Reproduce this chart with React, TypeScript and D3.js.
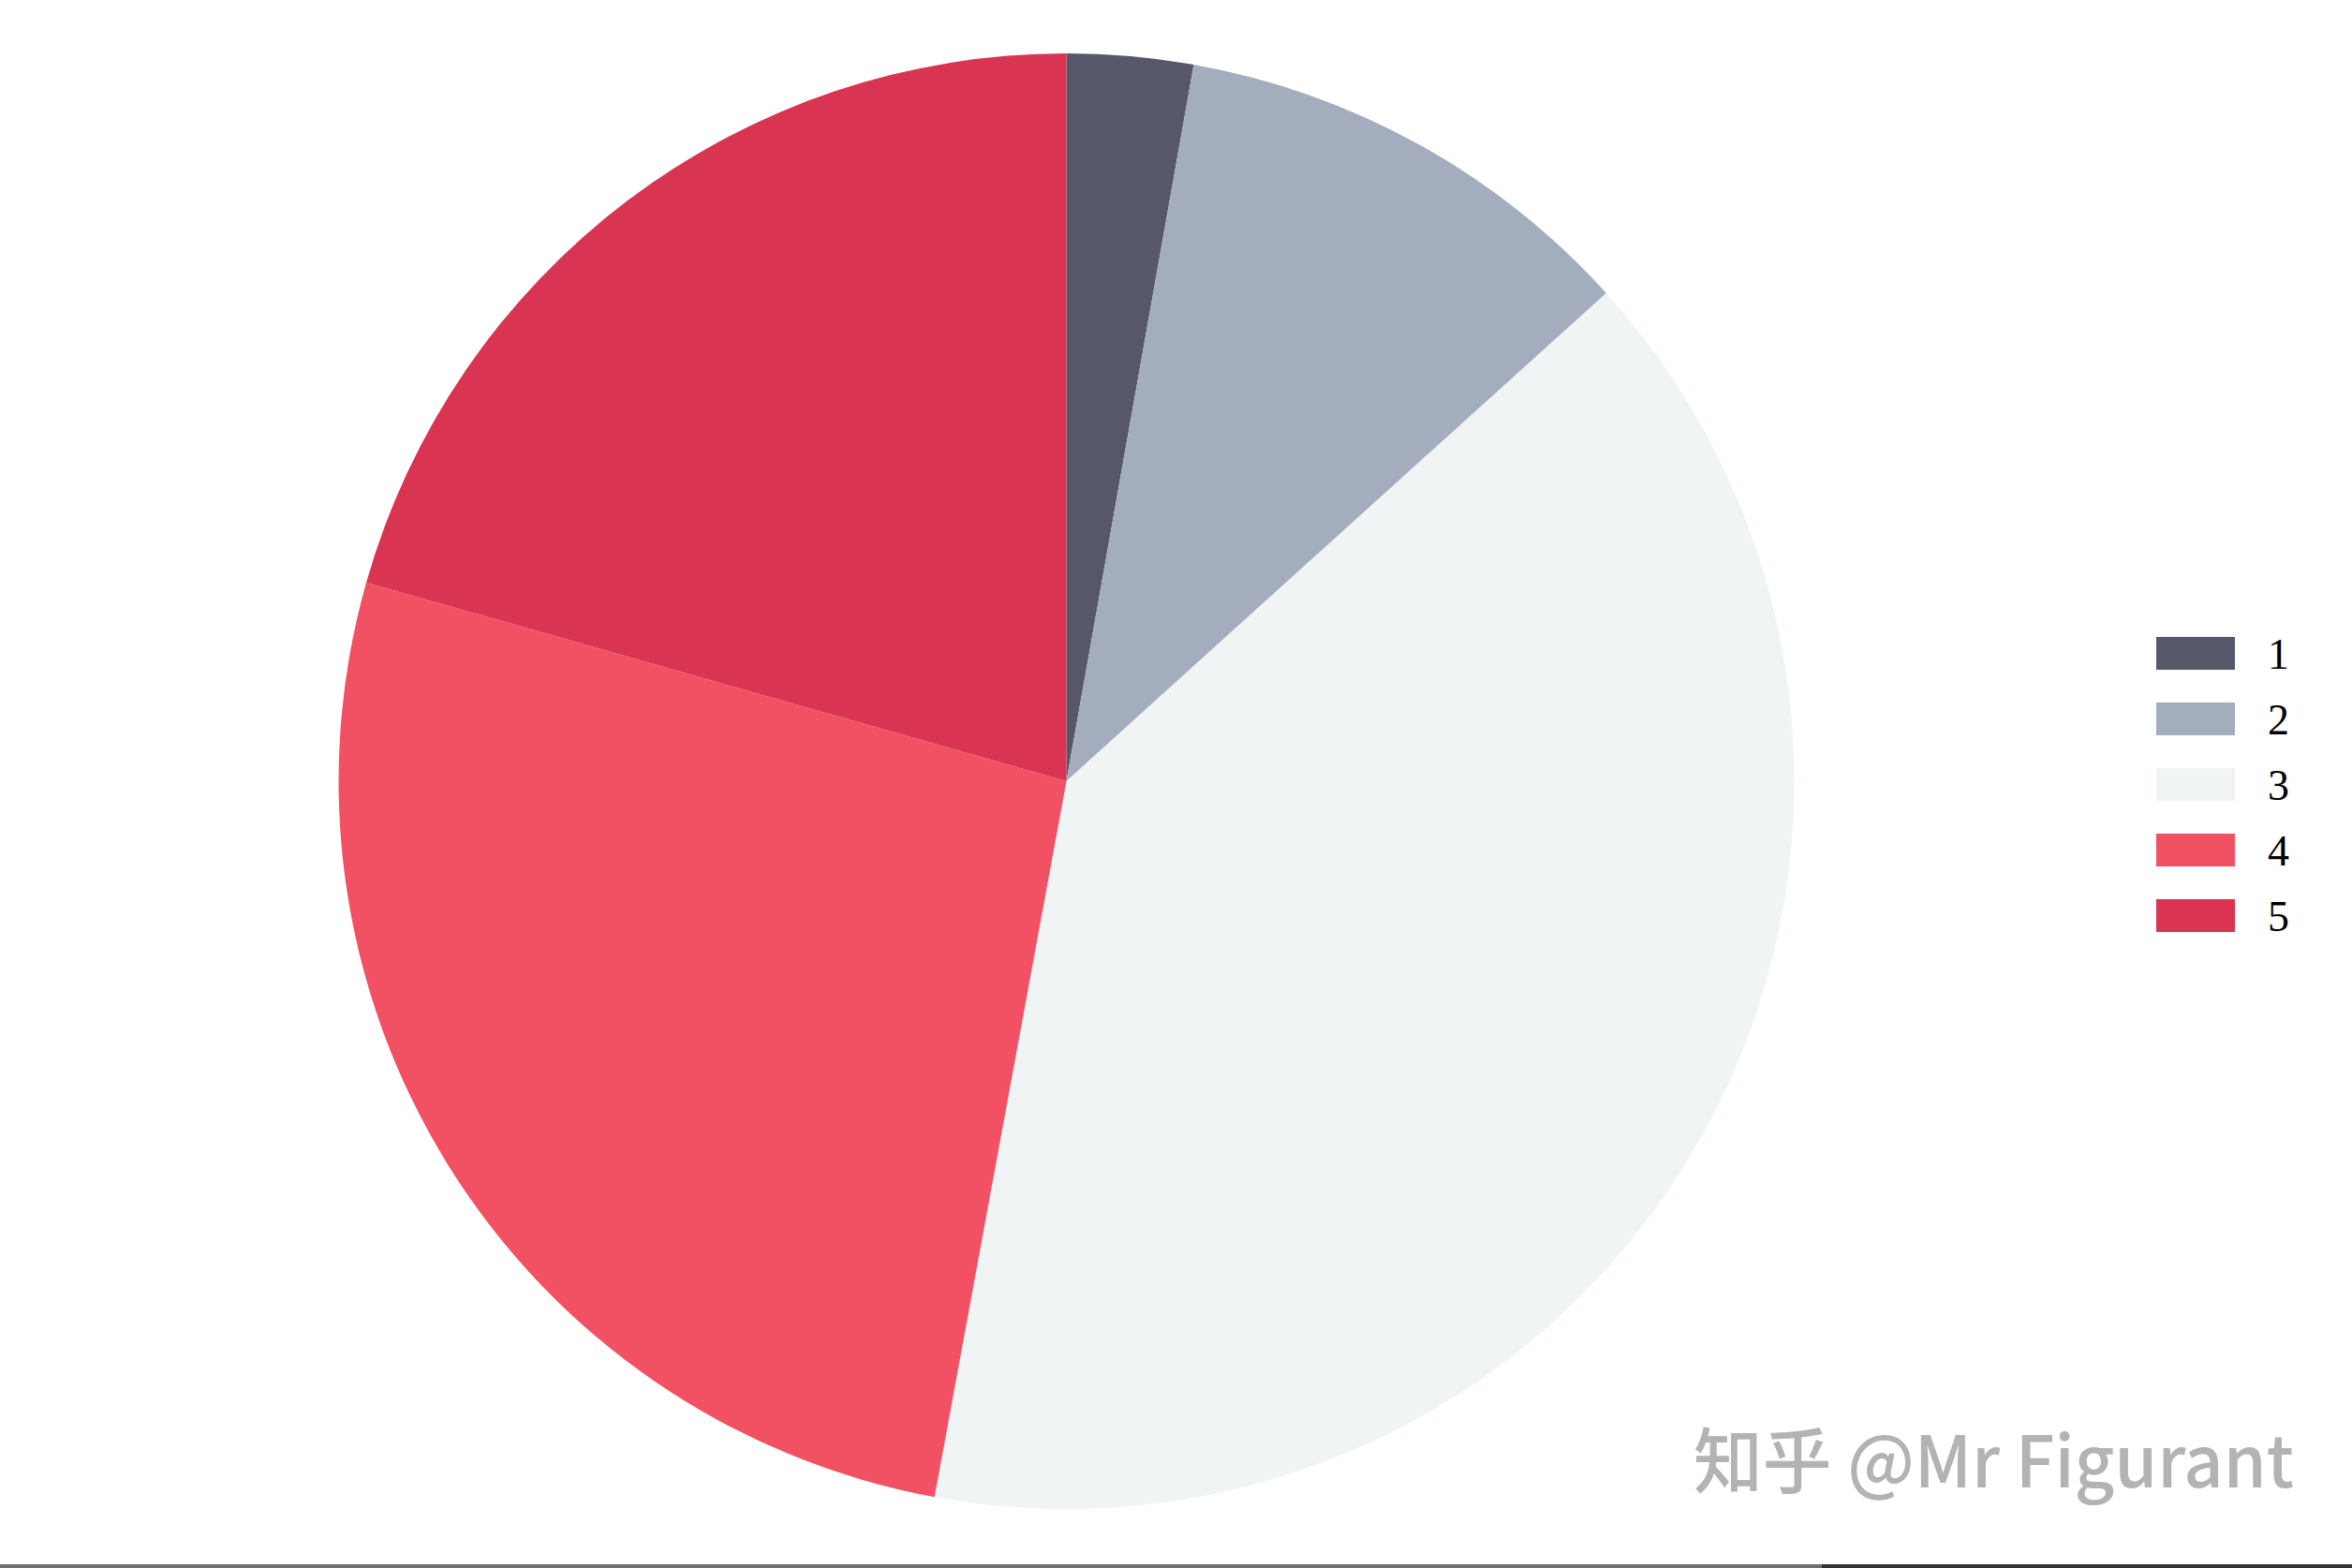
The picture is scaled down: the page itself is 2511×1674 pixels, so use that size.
import { useEffect, useRef } from 'react';
import * as d3 from 'd3';

const categories = ['1', '2', '3', '4', '5'];
const values = [2.8, 10.5, 39.6, 26.5, 20.6];
const colors = ['#565869', '#a4adbd', '#f1f4f5', '#f25163', '#d93553'];

const WIDTH = 2511;
const HEIGHT = 1674;

export default function App() {
  const svgRef = useRef<SVGSVGElement>(null);

  useEffect(() => {
    document.body.style.margin = '0';
    if (!svgRef.current) return;

    const svg = d3.select(svgRef.current);
    svg.selectAll('*').remove();

    svg.append('rect')
      .attr('width', WIDTH)
      .attr('height', HEIGHT)
      .attr('fill', '#ffffff');

    const cx = 1138.5;
    const cy = 834;
    const radius = 777;

    const color = d3.scaleOrdinal<string, string>()
      .domain(categories)
      .range(colors);

    const pie = d3.pie<number>().sort(null).value(d => d);
    const arc = d3.arc<d3.PieArcDatum<number>>()
      .innerRadius(0)
      .outerRadius(radius);

    const g = svg.append('g')
      .attr('transform', `translate(${cx},${cy})`);

    g.selectAll('path')
      .data(pie(values))
      .enter().append('path')
      .attr('d', arc)
      .attr('fill', (d, i) => color(categories[i]))
      .attr('stroke', 'none');

    // legend
    const legend = svg.append('g')
      .attr('transform', 'translate(2302,680)');

    const rows = legend.selectAll('g')
      .data(categories)
      .enter().append('g')
      .attr('transform', (d, i) => `translate(0,${i * 70})`);

    rows.append('rect')
      .attr('width', 84)
      .attr('height', 35)
      .attr('fill', d => color(d));

    rows.append('text')
      .attr('x', 119)
      .attr('y', 17.5)
      .attr('dy', '0.36em')
      .attr('font-family', '"Liberation Serif", "Times New Roman", serif')
      .attr('font-size', 46)
      .attr('fill', '#000000')
      .text(d => d);

    // watermark
    svg.append('text')
      .attr('x', 1808)
      .attr('y', 1588)
      .attr('font-family', '"Noto Sans CJK SC", "Noto Sans", sans-serif')
      .attr('font-size', 76)
      .attr('font-weight', 500)
      .attr('fill', '#b3b3b3')
      .attr('textLength', 641)
      .attr('lengthAdjust', 'spacingAndGlyphs')
      .text('知乎 @Mr Figurant');

    // bottom edge line
    svg.append('rect')
      .attr('x', 0)
      .attr('y', 1670)
      .attr('width', 1945)
      .attr('height', 4)
      .attr('fill', '#707070');
    svg.append('rect')
      .attr('x', 1945)
      .attr('y', 1670)
      .attr('width', WIDTH - 1945)
      .attr('height', 4)
      .attr('fill', '#333333');
  }, []);

  return <svg ref={svgRef} width={WIDTH} height={HEIGHT} style={{ display: 'block' }} />;
}
